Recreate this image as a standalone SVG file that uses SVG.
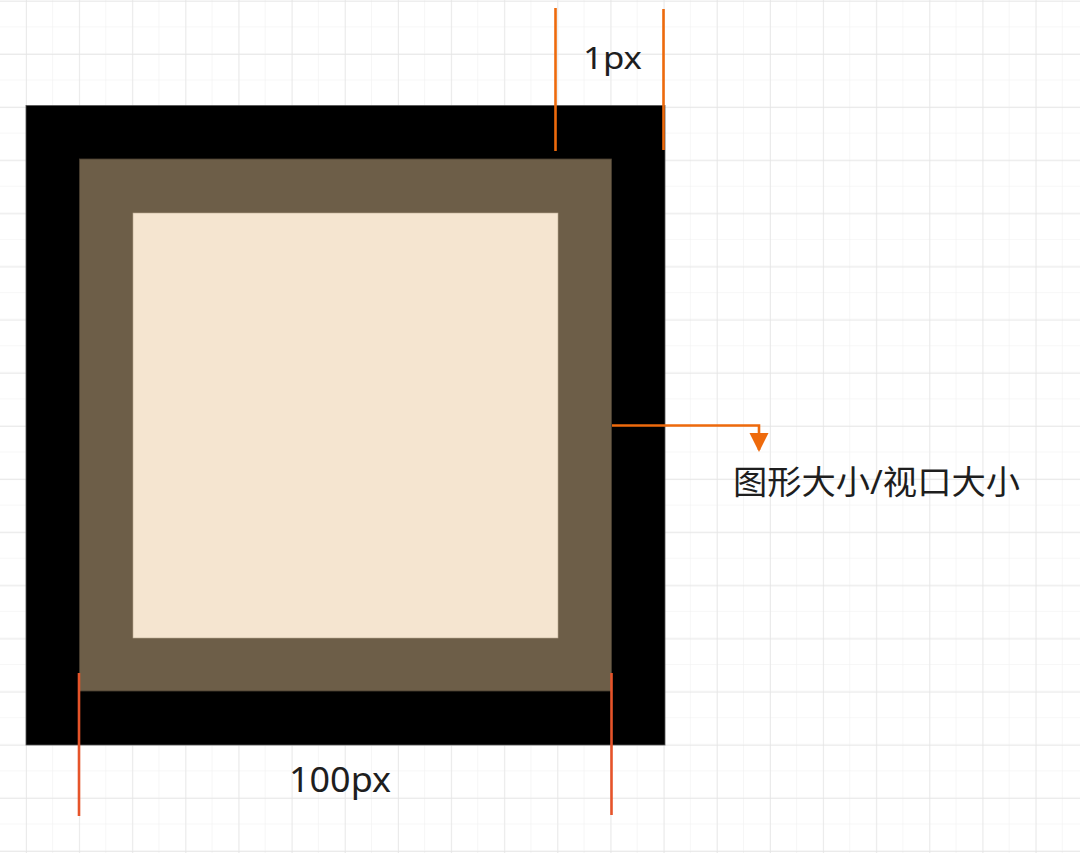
<svg xmlns="http://www.w3.org/2000/svg" width="1080" height="853" viewBox="0 0 1080 853">
  <defs>
    <pattern id="gridMinor" x="0" y="0.8" width="26.57" height="26.57" patternUnits="userSpaceOnUse">
      <path d="M26.57 0V26.57M0 26.57H26.57" fill="none" stroke="#f0f0f0" stroke-width="1.2"/>
    </pattern>
    <pattern id="gridMajor" x="26" y="0.8" width="53.14" height="53.14" patternUnits="userSpaceOnUse">
      <path d="M0 0V53.14M0 0H53.14" fill="none" stroke="#e4e4e4" stroke-width="1.4"/>
    </pattern>
    <marker id="arrow" markerWidth="20" markerHeight="20" refX="17" refY="9.5" orient="auto" markerUnits="userSpaceOnUse" viewBox="0 0 20 20">
      <path d="M0 0 L19 9.5 L0 19 Z" fill="#ee6a0c"/>
    </marker>
    <style>
      .dim { stroke-width: 2.6; fill: none; }
      .lbl { font-family: "Noto Sans", "Noto Sans CJK SC", sans-serif; fill: #1e1e1e; }
    </style>
  </defs>
  <rect width="1080" height="853" fill="#ffffff"/>
  <rect width="1080" height="853" fill="url(#gridMinor)"/>
  <rect width="1080" height="853" fill="url(#gridMajor)"/>

  <g id="outer-box">
    <rect x="26" y="105.5" width="639" height="639.5" fill="#000000" stroke="#555555" stroke-width="0.8"/>
  </g>
  <g id="middle-box">
    <rect x="79.5" y="159" width="532" height="532" fill="#6d5e48" stroke="#4a3f30" stroke-width="0.8"/>
  </g>
  <g id="inner-box">
    <rect x="133" y="213" width="425" height="425" fill="#f5e5d0" stroke="#b8a990" stroke-width="0.6"/>
  </g>

  <g id="connectors">
    <line class="dim" x1="555.5" y1="8" x2="555.5" y2="151" stroke="#ee6a0c"/>
    <line class="dim" x1="663.5" y1="9" x2="663.5" y2="150" stroke="#ee6a0c"/>
    <line class="dim" x1="79" y1="673" x2="79" y2="816" stroke="#e6542a"/>
    <line class="dim" x1="611.5" y1="673" x2="611.5" y2="815" stroke="#e6542a"/>
    <path d="M612 425.5 H759 V450" fill="none" stroke="#ee6a0c" stroke-width="2.6" marker-end="url(#arrow)"/>
  </g>

  <g id="labels">
    <text class="lbl" x="583" y="69" font-size="30" textLength="59" lengthAdjust="spacingAndGlyphs">1px</text>
    <text class="lbl" x="289" y="792" font-size="34" textLength="102" lengthAdjust="spacingAndGlyphs">100px</text>
    <text class="lbl" x="733" y="494" font-size="33" textLength="287" lengthAdjust="spacingAndGlyphs">图形大小/视口大小</text>
  </g>
</svg>
